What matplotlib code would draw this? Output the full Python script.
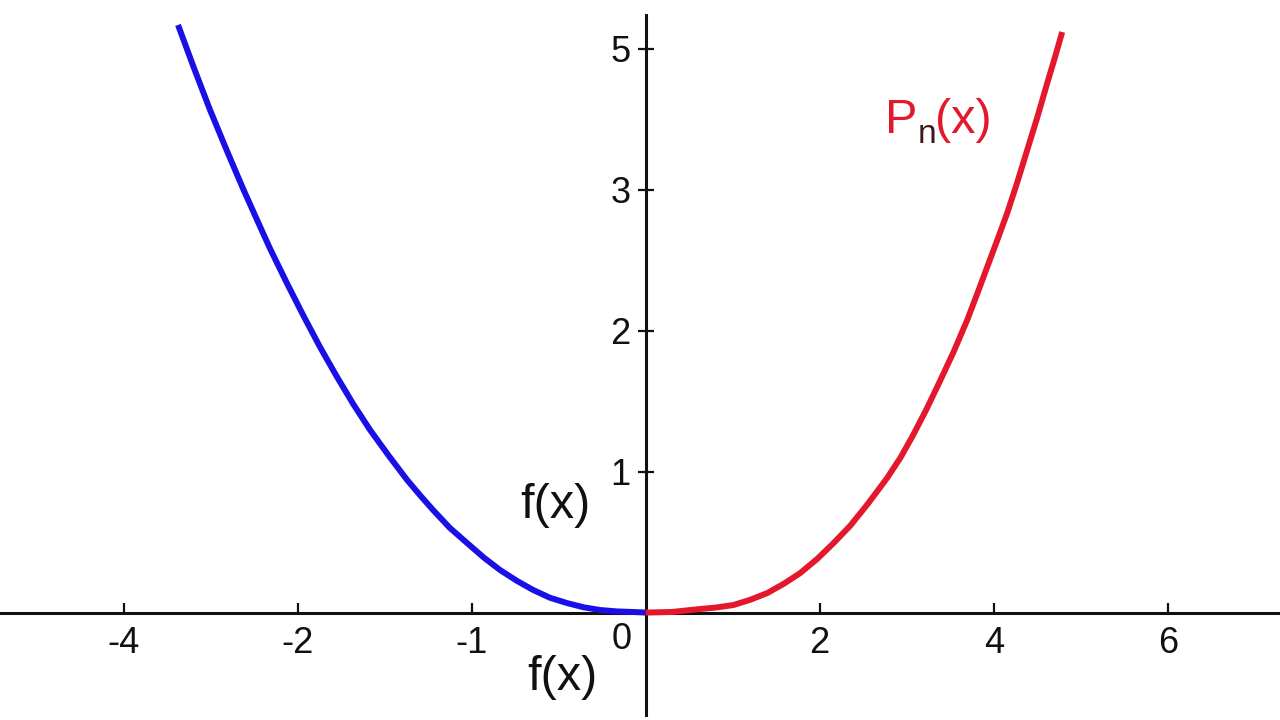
import numpy as np
import matplotlib.pyplot as plt

plt.rcParams['font.family'] = ['Liberation Sans', 'DejaVu Sans']

# Кривые (единицы осей графика)
left_x = [-5.374, -5.19, -5.006, -4.816, -4.626, -4.47, -4.316, -4.126,
          -3.937, -3.74, -3.546, -3.357, -3.167, -2.95, -2.741, -2.59,
          -2.443, -2.25, -2.052, -1.86, -1.672, -1.48, -1.293, -1.10,
          -0.902, -0.71, -0.523, -0.33, -0.144, 0.0]
left_y = [4.167, 3.86, 3.564, 3.28, 3.005, 2.79, 2.58, 2.34,
          2.11, 1.88, 1.67, 1.475, 1.295, 1.11, 0.940, 0.83,
          0.727, 0.60, 0.493, 0.39, 0.301, 0.225, 0.160, 0.105,
          0.067, 0.037, 0.018, 0.008, 0.004, 0.0]

right_x = [0.0, 0.3, 0.626, 0.8, 1.006, 1.20, 1.397, 1.59, 1.776, 1.971,
           2.155, 2.35, 2.546, 2.776, 2.93, 3.075, 3.23, 3.385, 3.54, 3.695,
           3.81, 3.925, 4.04, 4.155, 4.27, 4.385, 4.50, 4.615, 4.70, 4.787]
right_y = [0.0, 0.004, 0.025, 0.035, 0.053, 0.09, 0.138, 0.205, 0.280, 0.380,
           0.490, 0.615, 0.765, 0.955, 1.10, 1.26, 1.445, 1.645, 1.85, 2.074,
           2.26, 2.450, 2.64, 2.833, 3.05, 3.280, 3.51, 3.755, 3.93, 4.117]

# Подписи делений
xtick_pos = [-6, -4, -2, 2, 4, 6]
xtick_labels = ['-4', '-2', '-1', '2', '4', '6']
ytick_pos = [1, 2, 3, 4]
ytick_labels = ['1', '2', '3', '5']

blue = '#1a10e6'
red = '#e4182c'

fig = plt.figure(figsize=(12.8, 7.2), dpi=100)
ax = fig.add_axes([0, 0, 1, 1])

ax.plot(left_x, left_y, color=blue, lw=4.3, solid_capstyle='butt',
        solid_joinstyle='round', zorder=3)
ax.plot(right_x, right_y, color=red, lw=4.3, solid_capstyle='butt',
        solid_joinstyle='round', zorder=3)

ax.set_xlim(-7.42, 7.29)
ax.set_ylim(-0.762, 4.344)

# Оси через начало координат
ax.spines['left'].set_position(('data', 0))
ax.spines['bottom'].set_position(('data', 0))
ax.spines['top'].set_visible(False)
ax.spines['right'].set_visible(False)
ax.spines['left'].set_bounds(-0.727, 4.24)
for s in ['left', 'bottom']:
    ax.spines[s].set_linewidth(2.2)
    ax.spines[s].set_color('#111111')

ax.set_xticks(xtick_pos)
ax.set_xticklabels(xtick_labels)
ax.set_yticks(ytick_pos)
ax.set_yticklabels(ytick_labels)
ax.tick_params(axis='x', direction='in', length=7.5, width=1.6, pad=10,
               labelsize=26, colors='#111111')
ax.tick_params(axis='y', direction='inout', length=12, width=1.6, pad=5,
               labelsize=26, colors='#111111')

ax.text(-0.16, -0.07, '0', fontsize=26, ha='right', va='top', color='#111111')

# Подписи функций
ax.text(-1.443, 0.670, 'f(x)', fontsize=35, ha='left', va='baseline', color='#111111')
ax.text(-1.362, -0.550, 'f(x)', fontsize=35, ha='left', va='baseline', color='#111111')

ax.text(2.753, 3.401, 'P', fontsize=35, ha='left', va='baseline', color=red)
ax.text(3.121, 3.330, 'n', fontsize=24, ha='left', va='baseline', color='#3b1a1a')
ax.text(3.328, 3.401, '(x)', fontsize=35, ha='left', va='baseline', color=red)

fig.savefig('out.png', dpi=100)
